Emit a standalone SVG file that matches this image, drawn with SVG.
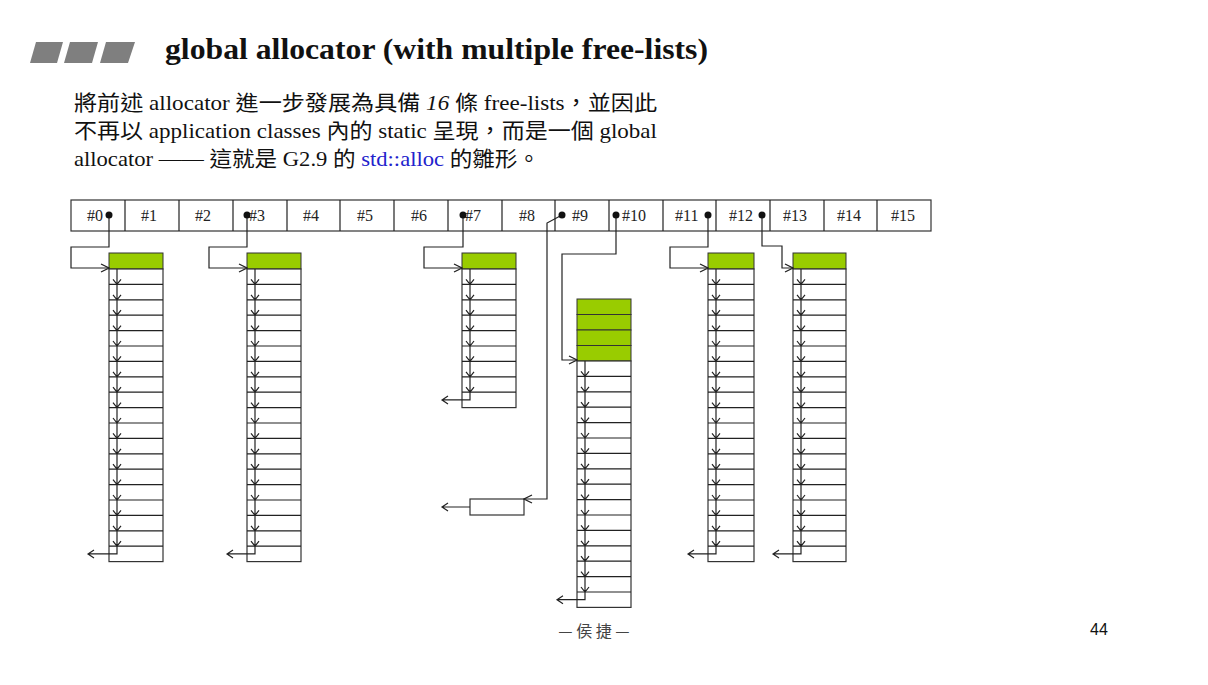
<svg xmlns="http://www.w3.org/2000/svg" width="1208" height="685" viewBox="0 0 1208 685">
<style>
.ln{fill:none;stroke:#222;stroke-width:1.2}
.bx{fill:#fff;stroke:#333;stroke-width:1.2}
.g{fill:#99cc00;stroke:#333;stroke-width:1}
.lab{font-family:"Liberation Serif","DejaVu Serif",serif;font-size:16px;fill:#222}
.t{font-family:"Liberation Serif","DejaVu Serif","Noto Sans CJK TC",serif;font-size:21px;fill:#111}
.c{font-family:"Noto Sans CJK TC",sans-serif}
.ttl{font-family:"Liberation Serif","DejaVu Serif",serif;font-weight:bold;font-size:29px;fill:#111}
</style>
<defs>
<marker id="ah" viewBox="0 0 10 10" refX="9" refY="5" markerWidth="10" markerHeight="10" markerUnits="userSpaceOnUse" orient="auto"><path d="M1 1L9 5L1 9" fill="none" stroke="#222" stroke-width="1.3"/></marker>
<circle id="dot" r="3.5" fill="#111"/>
</defs>
<rect width="1208" height="685" fill="#fff"/>
<g id="title">
<polygon points="36,42 63,42 57,63 30,63" fill="#7f7f7f"/>
<polygon points="70,42 98,42 92,63 64,63" fill="#7f7f7f"/>
<polygon points="106,42 135,42 128,63 100,63" fill="#7f7f7f"/>
<text class="ttl" x="165" y="59" textLength="543" lengthAdjust="spacingAndGlyphs">global allocator (with multiple free-lists)</text>
</g>
<g id="desc">
<text class="t" x="74" y="110" textLength="583" lengthAdjust="spacingAndGlyphs"><tspan class="c">將前述</tspan> allocator <tspan class="c">進一步發展為具備</tspan> <tspan font-style="italic">16</tspan> <tspan class="c">條</tspan> free-lists<tspan class="c">，並因此</tspan></text>
<text class="t" x="74" y="138" textLength="583" lengthAdjust="spacingAndGlyphs"><tspan class="c">不再以</tspan> application classes <tspan class="c">內的</tspan> static <tspan class="c">呈現，而是一個</tspan> global</text>
<text class="t" x="74" y="166" textLength="466" lengthAdjust="spacingAndGlyphs">allocator —— <tspan class="c">這就是</tspan> G2.9 <tspan class="c">的</tspan> <tspan fill="#2222cc">std::alloc</tspan> <tspan class="c">的雛形。</tspan></text>
</g>
<g id="array">
<rect class="bx" x="71" y="200" width="860" height="31"/>
<path class="ln" d="M125 200v31M179 200v31M233 200v31M287 200v31M340 200v31M394 200v31M448 200v31M502 200v31M555 200v31M609 200v31M663 200v31M716 200v31M770 200v31M824 200v31M877 200v31"/>
<text class="lab" x="87" y="221">#0</text><text class="lab" x="141" y="221">#1</text><text class="lab" x="195" y="221">#2</text><text class="lab" x="249" y="221">#3</text><text class="lab" x="303" y="221">#4</text><text class="lab" x="357" y="221">#5</text><text class="lab" x="411" y="221">#6</text><text class="lab" x="465" y="221">#7</text><text class="lab" x="519" y="221">#8</text><text class="lab" x="572" y="221">#9</text><text class="lab" x="622" y="221">#10</text><text class="lab" x="675" y="221">#11</text><text class="lab" x="729" y="221">#12</text><text class="lab" x="783" y="221">#13</text><text class="lab" x="837" y="221">#14</text><text class="lab" x="891" y="221">#15</text>
</g>
<g id="list0">
<rect class="g" x="109" y="253" width="54" height="16"/>
<rect class="bx" x="109" y="269" width="54" height="292.6"/>
<path class="ln" d="M109 284.4h54m-54 15.4h54m-54 15.4h54m-54 15.4h54m-54 15.4h54m-54 15.4h54m-54 15.4h54m-54 15.4h54m-54 15.4h54m-54 15.4h54m-54 15.4h54m-54 15.4h54m-54 15.4h54m-54 15.4h54m-54 15.4h54m-54 15.4h54m-54 15.4h54m-54 15.4h54"/>
<path class="ln" d="M117 269v15.4m-4-5l4 5 4-5m-4 5v15.4m-4-5l4 5 4-5m-4 5v15.4m-4-5l4 5 4-5m-4 5v15.4m-4-5l4 5 4-5m-4 5v15.4m-4-5l4 5 4-5m-4 5v15.4m-4-5l4 5 4-5m-4 5v15.4m-4-5l4 5 4-5m-4 5v15.4m-4-5l4 5 4-5m-4 5v15.4m-4-5l4 5 4-5m-4 5v15.4m-4-5l4 5 4-5m-4 5v15.4m-4-5l4 5 4-5m-4 5v15.4m-4-5l4 5 4-5m-4 5v15.4m-4-5l4 5 4-5m-4 5v15.4m-4-5l4 5 4-5m-4 5v15.4m-4-5l4 5 4-5m-4 5v15.4m-4-5l4 5 4-5m-4 5v15.4m-4-5l4 5 4-5m-4 5v15.4m-4-5l4 5 4-5m-4 5v7.7h-29m6-4l-6 4 6 4"/>
</g>
<g id="list3">
<rect class="g" x="247" y="253" width="54" height="16"/>
<rect class="bx" x="247" y="269" width="54" height="292.6"/>
<path class="ln" d="M247 284.4h54m-54 15.4h54m-54 15.4h54m-54 15.4h54m-54 15.4h54m-54 15.4h54m-54 15.4h54m-54 15.4h54m-54 15.4h54m-54 15.4h54m-54 15.4h54m-54 15.4h54m-54 15.4h54m-54 15.4h54m-54 15.4h54m-54 15.4h54m-54 15.4h54m-54 15.4h54"/>
<path class="ln" d="M255 269v15.4m-4-5l4 5 4-5m-4 5v15.4m-4-5l4 5 4-5m-4 5v15.4m-4-5l4 5 4-5m-4 5v15.4m-4-5l4 5 4-5m-4 5v15.4m-4-5l4 5 4-5m-4 5v15.4m-4-5l4 5 4-5m-4 5v15.4m-4-5l4 5 4-5m-4 5v15.4m-4-5l4 5 4-5m-4 5v15.4m-4-5l4 5 4-5m-4 5v15.4m-4-5l4 5 4-5m-4 5v15.4m-4-5l4 5 4-5m-4 5v15.4m-4-5l4 5 4-5m-4 5v15.4m-4-5l4 5 4-5m-4 5v15.4m-4-5l4 5 4-5m-4 5v15.4m-4-5l4 5 4-5m-4 5v15.4m-4-5l4 5 4-5m-4 5v15.4m-4-5l4 5 4-5m-4 5v15.4m-4-5l4 5 4-5m-4 5v7.7h-28m6-4l-6 4 6 4"/>
</g>
<g id="list7">
<rect class="g" x="462" y="253" width="54" height="16"/>
<rect class="bx" x="462" y="269" width="54" height="138.6"/>
<path class="ln" d="M462 284.4h54m-54 15.4h54m-54 15.4h54m-54 15.4h54m-54 15.4h54m-54 15.4h54m-54 15.4h54m-54 15.4h54"/>
<path class="ln" d="M470 269v15.4m-4-5l4 5 4-5m-4 5v15.4m-4-5l4 5 4-5m-4 5v15.4m-4-5l4 5 4-5m-4 5v15.4m-4-5l4 5 4-5m-4 5v15.4m-4-5l4 5 4-5m-4 5v15.4m-4-5l4 5 4-5m-4 5v15.4m-4-5l4 5 4-5m-4 5v15.4m-4-5l4 5 4-5m-4 5v7.7h-28m6-4l-6 4 6 4"/>
</g>
<g id="list9">
<rect class="bx" x="470" y="499" width="54" height="16"/>
<path class="ln" d="M470 507h-28m6-4l-6 4 6 4"/>
</g>
<g id="list10">
<rect class="g" x="577" y="299" width="54" height="15.5"/>
<rect class="g" x="577" y="314.5" width="54" height="15.5"/>
<rect class="g" x="577" y="330" width="54" height="15.5"/>
<rect class="g" x="577" y="345.5" width="54" height="15.5"/>
<rect class="bx" x="577" y="361" width="54" height="246.4"/>
<path class="ln" d="M577 376.4h54m-54 15.4h54m-54 15.4h54m-54 15.4h54m-54 15.4h54m-54 15.4h54m-54 15.4h54m-54 15.4h54m-54 15.4h54m-54 15.4h54m-54 15.4h54m-54 15.4h54m-54 15.4h54m-54 15.4h54m-54 15.4h54"/>
<path class="ln" d="M585 361v15.4m-4-5l4 5 4-5m-4 5v15.4m-4-5l4 5 4-5m-4 5v15.4m-4-5l4 5 4-5m-4 5v15.4m-4-5l4 5 4-5m-4 5v15.4m-4-5l4 5 4-5m-4 5v15.4m-4-5l4 5 4-5m-4 5v15.4m-4-5l4 5 4-5m-4 5v15.4m-4-5l4 5 4-5m-4 5v15.4m-4-5l4 5 4-5m-4 5v15.4m-4-5l4 5 4-5m-4 5v15.4m-4-5l4 5 4-5m-4 5v15.4m-4-5l4 5 4-5m-4 5v15.4m-4-5l4 5 4-5m-4 5v15.4m-4-5l4 5 4-5m-4 5v15.4m-4-5l4 5 4-5m-4 5v7.7h-28m6-4l-6 4 6 4"/>
</g>
<g id="list11">
<rect class="g" x="708" y="253" width="46" height="16"/>
<rect class="bx" x="708" y="269" width="46" height="292.6"/>
<path class="ln" d="M708 284.4h46m-46 15.4h46m-46 15.4h46m-46 15.4h46m-46 15.4h46m-46 15.4h46m-46 15.4h46m-46 15.4h46m-46 15.4h46m-46 15.4h46m-46 15.4h46m-46 15.4h46m-46 15.4h46m-46 15.4h46m-46 15.4h46m-46 15.4h46m-46 15.4h46m-46 15.4h46"/>
<path class="ln" d="M716 269v15.4m-4-5l4 5 4-5m-4 5v15.4m-4-5l4 5 4-5m-4 5v15.4m-4-5l4 5 4-5m-4 5v15.4m-4-5l4 5 4-5m-4 5v15.4m-4-5l4 5 4-5m-4 5v15.4m-4-5l4 5 4-5m-4 5v15.4m-4-5l4 5 4-5m-4 5v15.4m-4-5l4 5 4-5m-4 5v15.4m-4-5l4 5 4-5m-4 5v15.4m-4-5l4 5 4-5m-4 5v15.4m-4-5l4 5 4-5m-4 5v15.4m-4-5l4 5 4-5m-4 5v15.4m-4-5l4 5 4-5m-4 5v15.4m-4-5l4 5 4-5m-4 5v15.4m-4-5l4 5 4-5m-4 5v15.4m-4-5l4 5 4-5m-4 5v15.4m-4-5l4 5 4-5m-4 5v15.4m-4-5l4 5 4-5m-4 5v7.7h-28m6-4l-6 4 6 4"/>
</g>
<g id="list12">
<rect class="g" x="793" y="253" width="53" height="16"/>
<rect class="bx" x="793" y="269" width="53" height="292.6"/>
<path class="ln" d="M793 284.4h53m-53 15.4h53m-53 15.4h53m-53 15.4h53m-53 15.4h53m-53 15.4h53m-53 15.4h53m-53 15.4h53m-53 15.4h53m-53 15.4h53m-53 15.4h53m-53 15.4h53m-53 15.4h53m-53 15.4h53m-53 15.4h53m-53 15.4h53m-53 15.4h53m-53 15.4h53"/>
<path class="ln" d="M801 269v15.4m-4-5l4 5 4-5m-4 5v15.4m-4-5l4 5 4-5m-4 5v15.4m-4-5l4 5 4-5m-4 5v15.4m-4-5l4 5 4-5m-4 5v15.4m-4-5l4 5 4-5m-4 5v15.4m-4-5l4 5 4-5m-4 5v15.4m-4-5l4 5 4-5m-4 5v15.4m-4-5l4 5 4-5m-4 5v15.4m-4-5l4 5 4-5m-4 5v15.4m-4-5l4 5 4-5m-4 5v15.4m-4-5l4 5 4-5m-4 5v15.4m-4-5l4 5 4-5m-4 5v15.4m-4-5l4 5 4-5m-4 5v15.4m-4-5l4 5 4-5m-4 5v15.4m-4-5l4 5 4-5m-4 5v15.4m-4-5l4 5 4-5m-4 5v15.4m-4-5l4 5 4-5m-4 5v15.4m-4-5l4 5 4-5m-4 5v7.7h-28m6-4l-6 4 6 4"/>
</g>
<g id="connectors">
<path class="ln" marker-end="url(#ah)" d="M109 215V247H71V268H109"/>
<path class="ln" marker-end="url(#ah)" d="M247 215V247H209V268H247"/>
<path class="ln" marker-end="url(#ah)" d="M463 215V247H424V268H462"/>
<path class="ln" marker-end="url(#ah)" d="M562 215L547 223V499H524"/>
<path class="ln" marker-end="url(#ah)" d="M616 215V254H562V360H577"/>
<path class="ln" marker-end="url(#ah)" d="M708 215V247H670V268H708"/>
<path class="ln" marker-end="url(#ah)" d="M762 215V246H782V268H793"/>
<use href="#dot" x="109" y="215"/><use href="#dot" x="247" y="215"/><use href="#dot" x="463" y="215"/><use href="#dot" x="562" y="215"/><use href="#dot" x="616" y="215"/><use href="#dot" x="708" y="215"/><use href="#dot" x="762" y="215"/>
</g>
<g id="footer">
<text x="594" y="637" text-anchor="middle" font-family="Noto Sans CJK TC,sans-serif" font-size="16" fill="#444">— 侯 捷 —</text>
<text x="1090" y="635" font-family="Liberation Sans,sans-serif" font-size="16" fill="#111">44</text>
</g>
</svg>
